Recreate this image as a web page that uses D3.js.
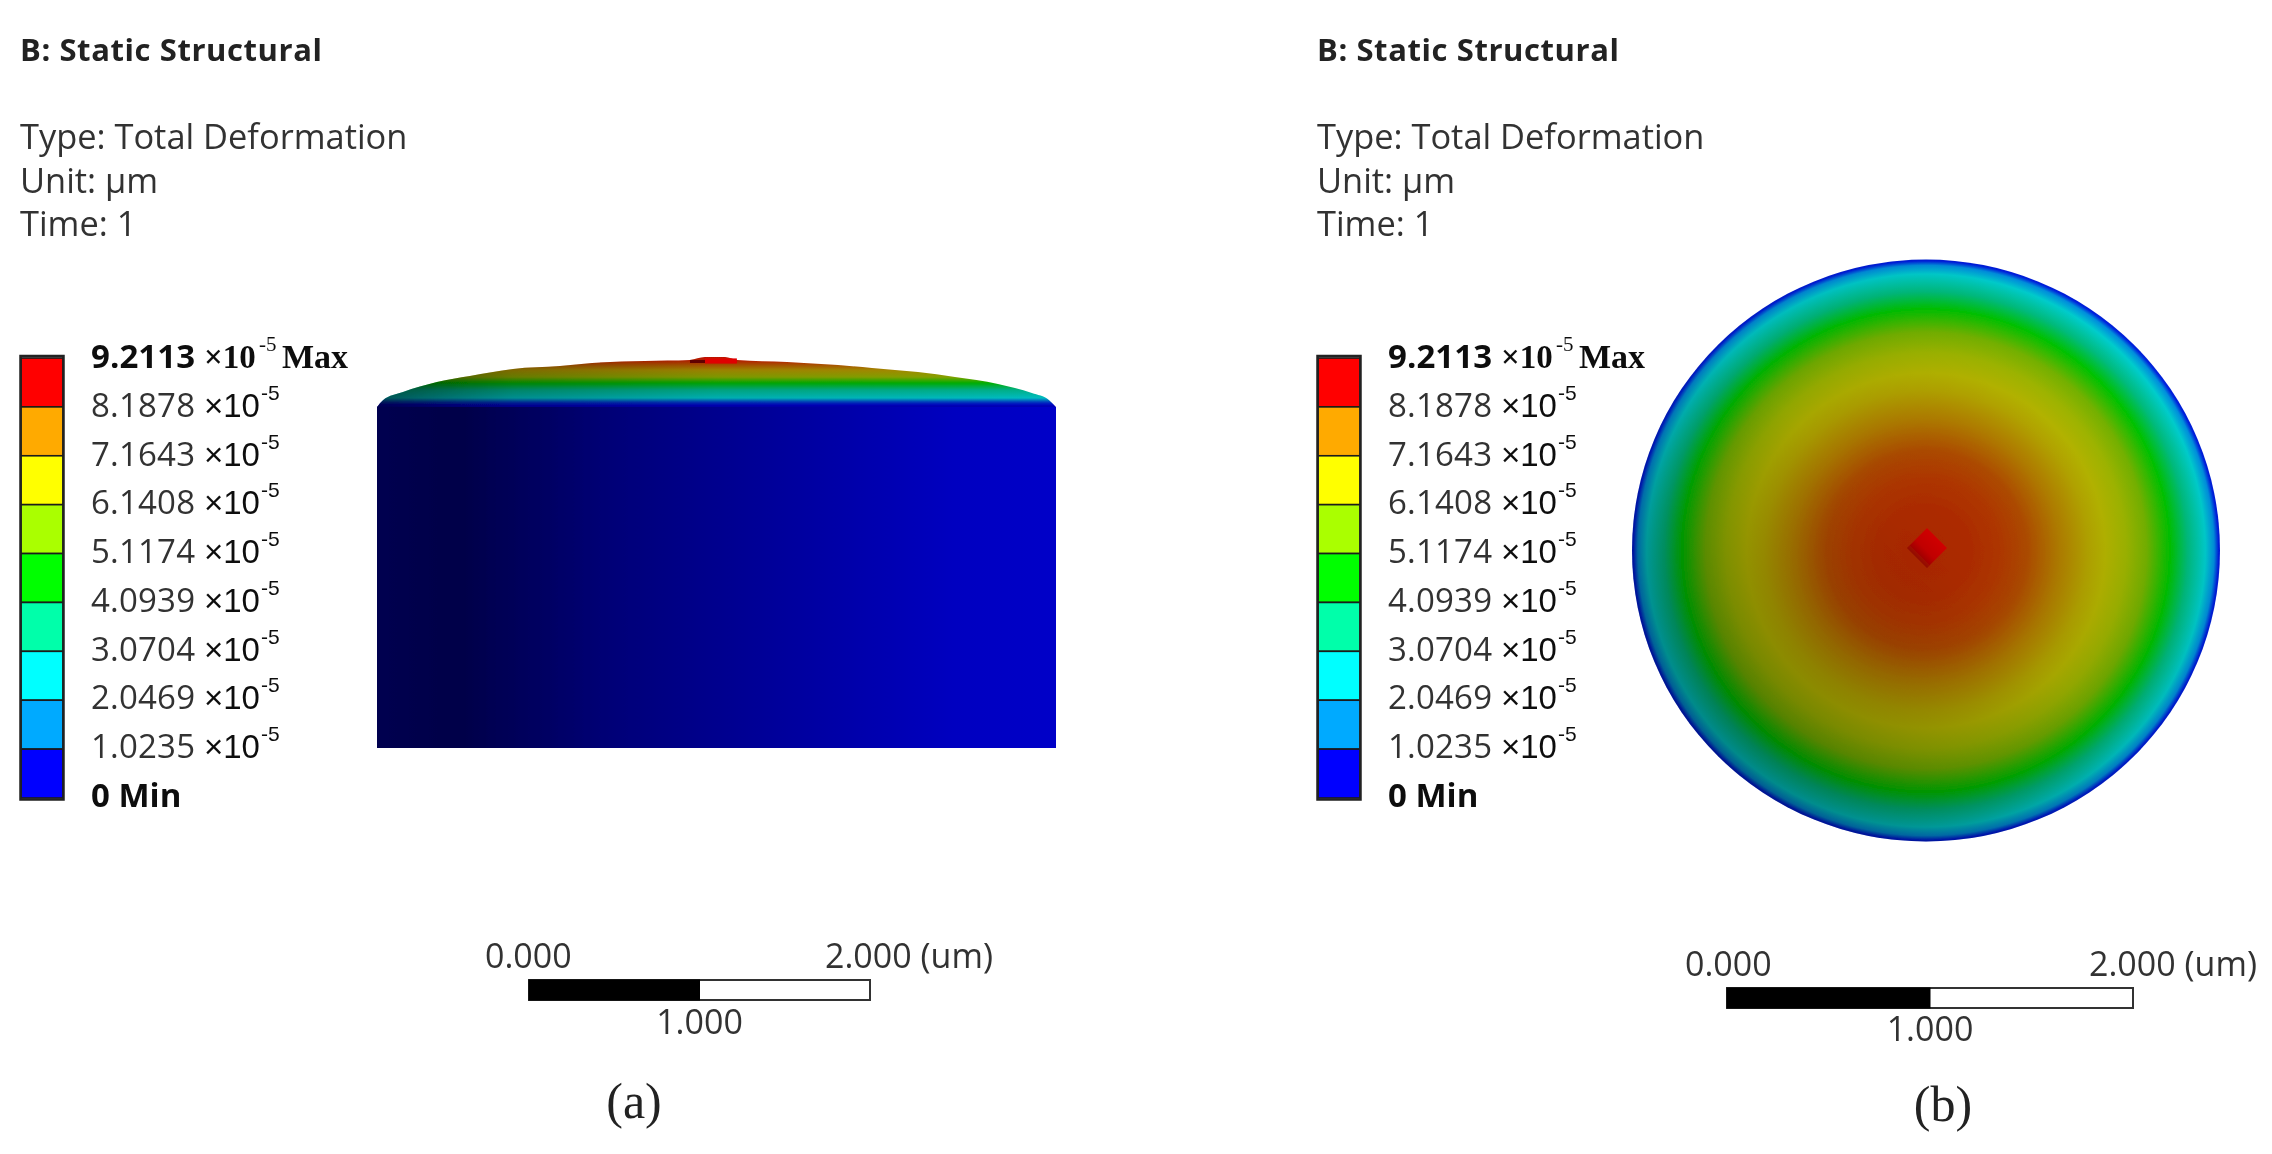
<!DOCTYPE html>
<html>
<head>
<meta charset="utf-8">
<script src="https://cdn.jsdelivr.net/npm/d3@7"></script>
<style>
  html, body { margin: 0; background: #fff; }
  svg { display: block; }
</style>
</head>
<body>
<div id="mainwindow"></div>
<script>
const width = 2272, height = 1154;

// legend, top to bottom
const legendValues = ["9.2113", "8.1878", "7.1643", "6.1408", "5.1174", "4.0939", "3.0704", "2.0469", "1.0235"];
const legendColors = ["#ff0000", "#ffaa00", "#ffff00", "#aaff00", "#00ff00", "#00ffaa", "#00ffff", "#00aaff", "#0000ff"];
const headerLines = ["Type: Total Deformation", "Unit: µm", "Time: 1"];
const scaleTicks = [0, 1, 2];
const tickLabels = ["0.000", "1.000", "2.000"];

// panel a: cylinder side view, micrometres (x from axis, height from base)
const domeX = [-2, -1.965, -1.847, -1.647, -1.453, -1.199, -0.922, -0.733, -0.421, -0.156, -0.068, 0.05, 0.12, 0.415, 0.716, 0.916, 1.187, 1.405, 1.658, 1.858, 1.96, 2];
const domeH = [2, 2.04, 2.088, 2.147, 2.182, 2.223, 2.24, 2.258, 2.27, 2.276, 2.293, 2.293, 2.276, 2.264, 2.246, 2.229, 2.205, 2.176, 2.135, 2.082, 2.04, 2];
const domeStopH = [2.293, 2.27, 2.246, 2.217, 2.176, 2.141, 2.1, 2.053, 2.03, 2.012, 2];
const domeStopColors = ["#d01000", "#c02800", "#b05800", "#a88c00", "#88a400", "#00b000", "#00b088", "#00bcc0", "#0040c0", "#0000c0", "#0000b0"];
const bodyStops = [0, 0.12, 0.35, 0.6, 0.85, 1];
const bodyColors = ["#000050", "#000048", "#000078", "#00009c", "#0000c0", "#0000c8"];

// panel b: top view, radial deformation rings (fraction of radius)
const ringStops = [0, 0.15, 0.25, 0.34, 0.45, 0.55, 0.61, 0.68, 0.75, 0.83, 0.89, 0.95, 0.98, 0.995, 1];
const ringColors = ["#c02c00", "#c03000", "#c03c00", "#bc5000", "#bc8400", "#bcac00", "#bcbc00", "#a4bc00", "#78b800", "#00c800", "#00c080", "#00d0d0", "#0090e0", "#0020e0", "#0020d8"];

const svg = d3.select("#mainwindow").append("svg")
  .attr("width", width).attr("height", height)
  .attr("viewBox", `0 0 ${width} ${height}`);

const defs = svg.append("defs");
defs.append("filter").attr("id", "soft")
  .attr("filterUnits", "userSpaceOnUse")
  .attr("x", 0).attr("y", 0).attr("width", width).attr("height", height)
  .append("feGaussianBlur").attr("stdDeviation", 0.6);

const root = svg.append("g").attr("filter", "url(#soft)");

const sans = "'Open Sans', 'Noto Sans', sans-serif";

const bandY = d3.scaleLinear().domain([0, legendColors.length]).range([358, 798]);
const labelY = d3.scalePoint().domain(d3.range(legendValues.length + 1)).range([368, 807]);

function drawHeader(g) {
  g.append("text").attr("x", 20).attr("y", 61)
    .attr("font-family", sans).attr("font-weight", 700).attr("font-size", 31)
    .attr("fill", "#222").attr("textLength", 302)
    .text("B: Static Structural");
  g.selectAll("text.head").data(headerLines).join("text")
    .attr("class", "head")
    .attr("x", 20).attr("y", (d, i) => 149 + i * 43.5)
    .attr("font-family", sans).attr("font-size", 34.4)
    .attr("fill", "#333")
    .text(d => d);
}

function drawLegend(g) {
  g.selectAll("rect.band").data(legendColors).join("rect")
    .attr("class", "band")
    .attr("x", 21).attr("width", 42)
    .attr("y", (d, i) => bandY(i)).attr("height", (d, i) => bandY(i + 1) - bandY(i))
    .attr("fill", d => d).attr("stroke", "#1a1a1a").attr("stroke-width", 1.6);
  g.append("rect").attr("x", 20.5).attr("y", 356).attr("width", 43).attr("height", 443.5)
    .attr("fill", "none").attr("stroke", "#222").attr("stroke-width", 2.5);

  const rows = g.selectAll("g.row").data(legendValues).join("g").attr("class", "row")
    .attr("transform", (d, i) => `translate(0,${labelY(i)})`);
  rows.append("text").attr("x", 91)
    .attr("font-family", sans).attr("font-size", 33)
    .attr("font-weight", (d, i) => i === 0 ? 700 : 400)
    .attr("fill", (d, i) => i === 0 ? "#111" : "#333")
    .attr("textLength", 104)
    .text(d => d);
  rows.append("text").attr("x", 204)
    .attr("font-family", (d, i) => i === 0 ? "'Liberation Serif', serif" : "'Liberation Sans', sans-serif")
    .attr("font-weight", (d, i) => i === 0 ? 700 : 400)
    .attr("font-size", 33).attr("fill", "#111")
    .text("×10");
  rows.append("text").attr("x", (d, i) => i === 0 ? 259 : 261).attr("y", -17)
    .attr("font-family", (d, i) => i === 0 ? "'Liberation Serif', serif" : "'Liberation Sans', sans-serif")
    .attr("font-size", 21).attr("fill", "#111")
    .text("-5");
  rows.filter((d, i) => i === 0).append("text").attr("x", 282)
    .attr("font-family", "'Liberation Serif', serif").attr("font-weight", 700)
    .attr("font-size", 34).attr("fill", "#111")
    .text("Max");

  g.append("text").attr("x", 91).attr("y", labelY(legendValues.length))
    .attr("font-family", sans).attr("font-size", 33).attr("font-weight", 700)
    .attr("fill", "#111").text("0 Min");
}

function drawScaleBar(g, x, top, h, labelTop, labelBottom, leftLabelX, rightLabelX) {
  g.append("rect").attr("x", x(0)).attr("y", top).attr("width", x(2) - x(0)).attr("height", h)
    .attr("fill", "#fff").attr("stroke", "#333").attr("stroke-width", 2);
  g.append("rect").attr("x", x(0)).attr("y", top).attr("width", x(1) - x(0)).attr("height", h)
    .attr("fill", "#000").attr("stroke", "#000").attr("stroke-width", 1);
  g.selectAll("text.tick").data(scaleTicks).join("text")
    .attr("class", "tick")
    .attr("x", d => d === 0 ? leftLabelX : d === 2 ? rightLabelX : x(d))
    .attr("y", d => d === 1 ? labelBottom : labelTop)
    .attr("text-anchor", d => d === 1 ? "middle" : "start")
    .attr("font-family", sans).attr("font-size", 34).attr("fill", "#333")
    .text((d, i) => tickLabels[i] + (d === 2 ? " (um)" : ""));
}

// panel a
const panelA = root.append("g");
drawHeader(panelA);
drawLegend(panelA);

const xA = d3.scaleLinear().domain([-2, 2]).range([377, 1056]);
const yA = d3.scaleLinear().domain([0, 2]).range([748, 407]);

const bodyGrad = defs.append("linearGradient").attr("id", "bodyGrad");
bodyGrad.selectAll("stop").data(bodyStops).join("stop")
  .attr("offset", d => d).attr("stop-color", (d, i) => bodyColors[i]);

const domeGrad = defs.append("linearGradient").attr("id", "domeGrad")
  .attr("gradientUnits", "userSpaceOnUse")
  .attr("x1", 0).attr("x2", 0).attr("y1", yA(domeStopH[0])).attr("y2", yA(2));
domeGrad.selectAll("stop").data(domeStopH).join("stop")
  .attr("offset", d => (domeStopH[0] - d) / (domeStopH[0] - 2))
  .attr("stop-color", (d, i) => domeStopColors[i]);

const domeShade = defs.append("linearGradient").attr("id", "domeShade");
domeShade.selectAll("stop").data([[0, 0.55], [0.2, 0.25], [0.5, 0.08], [1, 0]]).join("stop")
  .attr("offset", d => d[0]).attr("stop-color", "#000").attr("stop-opacity", d => d[1]);

const domeArea = d3.area().curve(d3.curveMonotoneX).x(d => xA(d[0])).y0(yA(2) + 1).y1(d => yA(d[1]));
const domeData = d3.zip(domeX, domeH);
panelA.append("path").attr("d", domeArea(domeData)).attr("fill", "url(#domeGrad)");
panelA.append("path").attr("d", domeArea(domeData)).attr("fill", "url(#domeShade)");

// peak element at the apex
panelA.append("rect").attr("x", xA(-0.068)).attr("width", xA(0.12) - xA(-0.068))
  .attr("y", yA(2.285)).attr("height", yA(2.255) - yA(2.285)).attr("fill", "#e00000");
panelA.append("rect").attr("x", xA(-0.156)).attr("width", xA(-0.068) - xA(-0.156))
  .attr("y", yA(2.276)).attr("height", yA(2.258) - yA(2.276)).attr("fill", "#600000");

panelA.append("rect").attr("x", xA(-2)).attr("y", yA(2)).attr("width", xA(2) - xA(-2)).attr("height", yA(0) - yA(2))
  .attr("fill", "url(#bodyGrad)");

drawScaleBar(panelA, d3.scaleLinear().domain([0, 2]).range([529, 870]), 980, 20, 968, 1034, 485, 825);
panelA.append("text").attr("x", 634).attr("y", 1118).attr("text-anchor", "middle")
  .attr("font-family", "'Liberation Serif', serif").attr("font-size", 50).attr("fill", "#222").text("(a)");

// panel b
const panelB = root.append("g");
const legendB = panelB.append("g").attr("transform", "translate(1297,0)");
drawHeader(legendB);
drawLegend(legendB);

const ringGrad = defs.append("radialGradient").attr("id", "ringGrad");
ringGrad.selectAll("stop").data(ringStops).join("stop")
  .attr("offset", d => d).attr("stop-color", (d, i) => ringColors[i]);

const shade = defs.append("linearGradient").attr("id", "shade")
  .attr("x1", 0.9).attr("y1", 0.1).attr("x2", 0.1).attr("y2", 0.9);
shade.selectAll("stop").data([[0, 0], [0.5, 0.12], [1, 0.38]]).join("stop")
  .attr("offset", d => d[0]).attr("stop-color", "#000").attr("stop-opacity", d => d[1]);

const cx = 1926, cy = 550.5, rx = 294, ry = 291;
panelB.append("ellipse").attr("cx", cx).attr("cy", cy).attr("rx", rx).attr("ry", ry).attr("fill", "url(#ringGrad)");
panelB.append("ellipse").attr("cx", cx).attr("cy", cy).attr("rx", rx).attr("ry", ry).attr("fill", "url(#shade)");

// peak element at the centre
const diamond = d3.scaleLinear().domain([-1, 1]).range([-20, 20]);
const diamondPts = [[0, -1], [1, 0], [0, 1], [-1, 0]];
const diamondGrad = defs.append("linearGradient").attr("id", "diamondGrad")
  .attr("x1", 0.9).attr("y1", 0.1).attr("x2", 0.1).attr("y2", 0.9);
diamondGrad.selectAll("stop").data([[0, "#d80000"], [0.55, "#c00000"], [1, "#701000"]]).join("stop")
  .attr("offset", d => d[0]).attr("stop-color", d => d[1]);
panelB.append("path")
  .attr("transform", "translate(1927,548)")
  .attr("d", d3.line().x(d => diamond(d[0])).y(d => diamond(d[1])).curve(d3.curveLinearClosed)(diamondPts))
  .attr("fill", "url(#diamondGrad)");

drawScaleBar(panelB, d3.scaleLinear().domain([0, 2]).range([1727, 2133]), 988, 20, 976, 1041, 1685, 2089);
panelB.append("text").attr("x", 1943).attr("y", 1121).attr("text-anchor", "middle")
  .attr("font-family", "'Liberation Serif', serif").attr("font-size", 50).attr("fill", "#222").text("(b)");
</script>
</body>
</html>
